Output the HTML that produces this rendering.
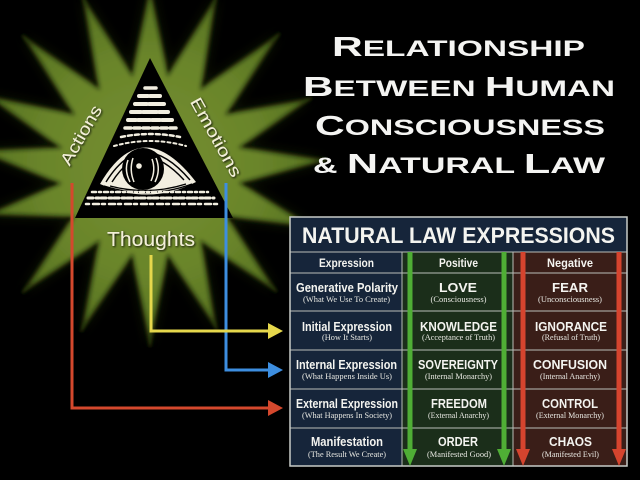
<!DOCTYPE html>
<html>
<head>
<meta charset="utf-8">
<style>
  html,body{margin:0;padding:0;background:#000;}
  body{width:640px;height:480px;overflow:hidden;}
  svg{display:block;}
</style>
</head>
<body>
<svg width="640" height="480" viewBox="0 0 640 480" xmlns="http://www.w3.org/2000/svg">
  <defs>
    <radialGradient id="starg" cx="150" cy="165" r="180" gradientUnits="userSpaceOnUse">
      <stop offset="0" stop-color="#768f31"/>
      <stop offset="0.6" stop-color="#6a852b"/>
      <stop offset="1" stop-color="#55701f"/>
    </radialGradient>
    <filter id="glow" x="-30%" y="-30%" width="160%" height="160%">
      <feGaussianBlur stdDeviation="6"/>
    </filter>
    <filter id="soft" x="-10%" y="-10%" width="120%" height="120%">
      <feGaussianBlur stdDeviation="1.2"/>
    </filter>
    <filter id="edge" x="-10%" y="-10%" width="120%" height="120%">
      <feGaussianBlur stdDeviation="2"/>
    </filter>
    <filter id="tshadow" x="-20%" y="-50%" width="140%" height="200%">
      <feDropShadow dx="1" dy="1" stdDeviation="1" flood-color="#000" flood-opacity="0.9"/>
    </filter>
  </defs>

  <rect x="0" y="0" width="640" height="480" fill="#000"/>

  <!-- Starburst glow -->
  <polygon fill="#3f5614" opacity="0.4" filter="url(#glow)" points="150,-15 168.5,71.8 217,-5 202.8,86 280,33 229,112.2 312,98 243.2,146.5 328,160 243.2,183.5 315,228 229,217.8 277,292 202.8,244 217,330 168.5,258.2 150,347 131.5,258.2 81,332 97.2,244 22,293 71,217.8 -15,215 56.8,183.5 -25,150 56.8,146.5 -15,95 71,112.2 22,35 97.2,86 82,-5 131.5,71.8"/>
  <!-- Starburst -->
  <polygon fill="url(#starg)" filter="url(#soft)" points="150,-15 168.5,71.8 217,-5 202.8,86 280,33 229,112.2 312,98 243.2,146.5 328,160 243.2,183.5 315,228 229,217.8 277,292 202.8,244 217,330 168.5,258.2 150,347 131.5,258.2 81,332 97.2,244 22,293 71,217.8 -15,215 56.8,183.5 -25,150 56.8,146.5 -15,95 71,112.2 22,35 97.2,86 82,-5 131.5,71.8"/>
  <polygon fill="none" stroke="#0c1204" stroke-width="4" opacity="0.7" filter="url(#edge)" points="150,-15 168.5,71.8 217,-5 202.8,86 280,33 229,112.2 312,98 243.2,146.5 328,160 243.2,183.5 315,228 229,217.8 277,292 202.8,244 217,330 168.5,258.2 150,347 131.5,258.2 81,332 97.2,244 22,293 71,217.8 -15,215 56.8,183.5 -25,150 56.8,146.5 -15,95 71,112.2 22,35 97.2,86 82,-5 131.5,71.8"/>

  <!-- Triangle -->
  <polygon points="150,58 233,218 75,218" fill="#000"/>

  <!-- Eye of providence (stylised) -->
  <g fill="none" stroke="#f2eee0" stroke-linecap="round">
    <line x1="145" y1="88" x2="156" y2="88" stroke-width="3.5"/>
    <line x1="139" y1="96" x2="160" y2="96" stroke-width="4" stroke-dasharray="9 2 12"/>
    <line x1="135" y1="104" x2="164" y2="104" stroke-width="4" stroke-dasharray="12 2 16"/>
    <line x1="131" y1="112" x2="168" y2="112" stroke-width="4" stroke-dasharray="10 2 14 2"/>
    <line x1="128" y1="120" x2="172" y2="120" stroke-width="4" stroke-dasharray="8 2 12 2"/>
    <line x1="125" y1="128" x2="176" y2="128" stroke-width="3.5" stroke-dasharray="6 3"/>
    <path d="M121 137 Q150 131 180 137" stroke-width="2.5" stroke-dasharray="4 3"/>
    <path d="M114 146 Q150 136 186 146" stroke-width="2" stroke-dasharray="3 3"/>
  </g>
  <path d="M100 184 Q142 112 196 182 Q150 206 100 184 Z" fill="#f2eee0"/>
  <g fill="none" stroke="#000" stroke-width="1.4">
    <path d="M106 182 Q142 124 190 180"/>
    <path d="M112 182 Q142 134 184 180"/>
    <path d="M104 186 Q148 200 192 184"/>
    <path d="M110 186 Q148 196 186 184"/>
  </g>
  <circle cx="143" cy="169" r="21" fill="#000"/>
  <g fill="none" stroke="#f2eee0" stroke-width="1.5">
    <path d="M128 160 Q124 170 130 182"/>
    <path d="M133 158 Q129 170 134 182"/>
    <path d="M156 158 Q161 170 155 182"/>
    <path d="M152 159 Q156 170 151 181"/>
  </g>
  <circle cx="139" cy="166" r="2.8" fill="#f2eee0"/>
  <g fill="none" stroke="#f2eee0" stroke-linecap="round">
    <line x1="92" y1="192" x2="208" y2="192" stroke-width="2.5" stroke-dasharray="4 3 2 3"/>
    <line x1="88" y1="198" x2="214" y2="198" stroke-width="3" stroke-dasharray="5 3 3 2"/>
    <line x1="86" y1="204" x2="218" y2="204" stroke-width="2.5" stroke-dasharray="3 4 6 3"/>
  </g>

  <!-- Star labels -->
  <g font-family="'Liberation Sans', sans-serif" fill="#f3efd9" filter="url(#tshadow)">
    <text x="0" y="0" font-size="17" text-anchor="middle" transform="translate(86,138) rotate(-60)" textLength="66" lengthAdjust="spacingAndGlyphs">Actions</text>
    <text x="0" y="0" font-size="17" text-anchor="middle" transform="translate(211,140) rotate(61)" textLength="88" lengthAdjust="spacingAndGlyphs">Emotions</text>
    <text x="151" y="246" font-size="20" text-anchor="middle" textLength="88" lengthAdjust="spacingAndGlyphs">Thoughts</text>
  </g>

  <!-- Connectors -->
  <g fill="none" stroke-width="3">
    <path d="M72 183 V408 H270" stroke="#d4482d"/>
    <path d="M226 183 V370 H270" stroke="#3d8ee0"/>
    <path d="M151 255 V331 H270" stroke="#e6d84c"/>
  </g>
  <polygon points="268,400 283,408 268,416" fill="#d4482d"/>
  <polygon points="268,362 283,370 268,378" fill="#3d8ee0"/>
  <polygon points="268,323 283,331 268,339" fill="#e6d84c"/>

  <!-- Title -->
  <g font-family="'Liberation Sans', sans-serif" font-weight="bold" fill="#f4f4f2">
    <text x="332" y="56" textLength="253" lengthAdjust="spacingAndGlyphs"><tspan font-size="28">R</tspan><tspan font-size="22">ELATIONSHIP</tspan></text>
    <text x="303" y="96" textLength="312" lengthAdjust="spacingAndGlyphs"><tspan font-size="28">B</tspan><tspan font-size="22">ETWEEN </tspan><tspan font-size="28">H</tspan><tspan font-size="22">UMAN</tspan></text>
    <text x="315" y="135" textLength="290" lengthAdjust="spacingAndGlyphs"><tspan font-size="28">C</tspan><tspan font-size="22">ONSCIOUSNESS</tspan></text>
    <text x="313" y="173" textLength="292" lengthAdjust="spacingAndGlyphs"><tspan font-size="22">&amp; </tspan><tspan font-size="28">N</tspan><tspan font-size="22">ATURAL </tspan><tspan font-size="28">L</tspan><tspan font-size="22">AW</tspan></text>
  </g>

  <!-- Table -->
  <rect x="290" y="217" width="337" height="249" fill="#16253a"/>
  <rect x="402" y="252" width="111" height="214" fill="#1b2e1a"/>
  <rect x="513" y="252" width="114" height="214" fill="#3a1e18"/>
  <g stroke="#b9bdb8" stroke-width="1">
    <line x1="290" y1="252" x2="627" y2="252"/>
    <line x1="290" y1="273" x2="627" y2="273"/>
    <line x1="290" y1="311" x2="627" y2="311"/>
    <line x1="290" y1="350" x2="627" y2="350"/>
    <line x1="290" y1="389" x2="627" y2="389"/>
    <line x1="290" y1="428" x2="627" y2="428"/>
    <line x1="402" y1="252" x2="402" y2="466"/>
    <line x1="513" y1="252" x2="513" y2="466"/>
  </g>
  <rect x="290" y="217" width="337" height="249" fill="none" stroke="#c8ccc8" stroke-width="1.5"/>

  <!-- Table arrows -->
  <rect x="407.5" y="252" width="5" height="200" fill="#4fae35"/>
  <polygon points="403,449 417,449 410,466" fill="#4fae35"/>
  <rect x="501.5" y="252" width="5" height="200" fill="#4fae35"/>
  <polygon points="497,449 511,449 504,466" fill="#4fae35"/>
  <rect x="520.5" y="252" width="5" height="200" fill="#d5442e"/>
  <polygon points="516,449 530,449 523,466" fill="#d5442e"/>
  <rect x="616.5" y="252" width="5" height="200" fill="#d5442e"/>
  <polygon points="612,449 626,449 619,466" fill="#d5442e"/>

  <!-- Table text -->
  <g font-family="'Liberation Sans', sans-serif" fill="#f4f4f0" text-anchor="middle">
    <text x="458.5" y="243" font-size="22" font-weight="bold" textLength="313" lengthAdjust="spacingAndGlyphs">NATURAL LAW EXPRESSIONS</text>

    <g font-size="12" font-weight="bold">
      <text x="346.5" y="267" textLength="55" lengthAdjust="spacingAndGlyphs">Expression</text>
      <text x="458.5" y="267" textLength="39" lengthAdjust="spacingAndGlyphs">Positive</text>
      <text x="570" y="267" textLength="46" lengthAdjust="spacingAndGlyphs">Negative</text>
    </g>

    <g font-size="13" font-weight="bold">
      <text x="347" y="292" textLength="102" lengthAdjust="spacingAndGlyphs">Generative Polarity</text>
      <text x="458" y="292" textLength="38" lengthAdjust="spacingAndGlyphs">LOVE</text>
      <text x="570" y="292" textLength="36" lengthAdjust="spacingAndGlyphs">FEAR</text>

      <text x="347" y="331" textLength="90" lengthAdjust="spacingAndGlyphs">Initial Expression</text>
      <text x="458.5" y="331" textLength="77" lengthAdjust="spacingAndGlyphs">KNOWLEDGE</text>
      <text x="571" y="331" textLength="72" lengthAdjust="spacingAndGlyphs">IGNORANCE</text>

      <text x="346.5" y="369" textLength="101" lengthAdjust="spacingAndGlyphs">Internal Expression</text>
      <text x="458" y="369" textLength="80" lengthAdjust="spacingAndGlyphs">SOVEREIGNTY</text>
      <text x="570" y="369" textLength="74" lengthAdjust="spacingAndGlyphs">CONFUSION</text>

      <text x="347" y="408" textLength="102" lengthAdjust="spacingAndGlyphs">External Expression</text>
      <text x="459" y="408" textLength="56" lengthAdjust="spacingAndGlyphs">FREEDOM</text>
      <text x="570" y="408" textLength="56" lengthAdjust="spacingAndGlyphs">CONTROL</text>

      <text x="347" y="446" textLength="72" lengthAdjust="spacingAndGlyphs">Manifestation</text>
      <text x="458" y="446" textLength="40" lengthAdjust="spacingAndGlyphs">ORDER</text>
      <text x="570.5" y="446" textLength="43" lengthAdjust="spacingAndGlyphs">CHAOS</text>
    </g>

    <g font-family="'Liberation Serif', serif" font-size="8" fill="#e8e8e2">
      <text x="346.5" y="302" textLength="87" lengthAdjust="spacingAndGlyphs">(What We Use To Create)</text>
      <text x="458.5" y="302" textLength="56" lengthAdjust="spacingAndGlyphs">(Consciousness)</text>
      <text x="570" y="302" textLength="64" lengthAdjust="spacingAndGlyphs">(Unconsciousness)</text>

      <text x="347" y="340" textLength="50" lengthAdjust="spacingAndGlyphs">(How It Starts)</text>
      <text x="458.5" y="340" textLength="73" lengthAdjust="spacingAndGlyphs">(Acceptance of Truth)</text>
      <text x="571" y="340" textLength="58" lengthAdjust="spacingAndGlyphs">(Refusal of Truth)</text>

      <text x="347" y="379" textLength="90" lengthAdjust="spacingAndGlyphs">(What Happens Inside Us)</text>
      <text x="458.5" y="379" textLength="67" lengthAdjust="spacingAndGlyphs">(Internal Monarchy)</text>
      <text x="570" y="379" textLength="60" lengthAdjust="spacingAndGlyphs">(Internal Anarchy)</text>

      <text x="347" y="418" textLength="90" lengthAdjust="spacingAndGlyphs">(What Happens In Society)</text>
      <text x="458.5" y="418" textLength="61" lengthAdjust="spacingAndGlyphs">(External Anarchy)</text>
      <text x="570" y="418" textLength="68" lengthAdjust="spacingAndGlyphs">(External Monarchy)</text>

      <text x="347" y="457" textLength="78" lengthAdjust="spacingAndGlyphs">(The Result We Create)</text>
      <text x="459" y="457" textLength="64" lengthAdjust="spacingAndGlyphs">(Manifested Good)</text>
      <text x="570.5" y="457" textLength="57" lengthAdjust="spacingAndGlyphs">(Manifested Evil)</text>
    </g>
  </g>
</svg>
</body>
</html>
